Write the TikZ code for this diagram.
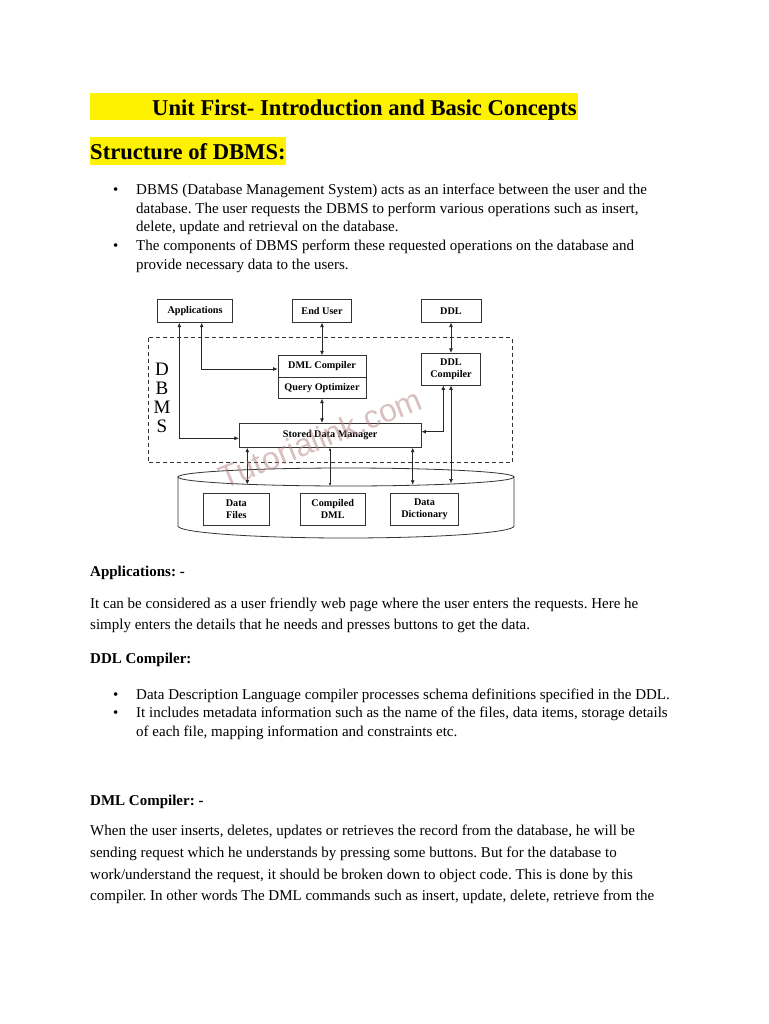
\documentclass[tikz,border=0pt]{standalone}
\usepackage{fontspec}
\setmainfont{Liberation Serif}
\newfontfamily\markfont{Liberation Sans}
\usetikzlibrary{arrows.meta, positioning}
\frenchspacing

\tikzset{
  body/.style={anchor=base west, inner sep=0pt, font=\fontsize{15}{18}\selectfont},
  head/.style={anchor=base west, inner sep=0pt, font=\fontsize{15}{18}\selectfont\bfseries},
  big/.style={anchor=base west, inner sep=0pt, font=\fontsize{22.6}{26}\selectfont\bfseries},
  blk/.style={draw=black!80, line width=0.8pt, fill=white, align=center, inner sep=0pt,
    font=\fontsize{10.2}{12}\selectfont\bfseries},
  link/.style={black!85, line width=0.8pt, {Latex[length=4.5pt,width=4pt]}-{Latex[length=4.5pt,width=4pt]}},
  thinlink/.style={black!85, line width=0.5pt, {Latex[length=3pt,width=2.5pt]}-{Latex[length=3pt,width=2.5pt]}},
  letter/.style={inner sep=0pt, font=\fontsize{19}{19}\selectfont},
}

\begin{document}
\begin{tikzpicture}[x=1pt,y=-1pt]
\fill[white] (0,0) rectangle (768,1024);
\useasboundingbox (0,0) rectangle (768,1024);

% headings
\fill[yellow] (90,93) rectangle (578,120);
\node[big] (title) at (152,115.5) {Unit First- Introduction and Basic Concepts};
\fill[yellow] (90,137) rectangle (286,165);
\node[big] (struct) at (90,160) {Structure of DBMS:};

% first bullets
\node[body] at (113,195) {\textbullet};
\node[body] at (136,195) {DBMS (Database Management System) acts as an interface between the user and the};
\node[body] at (136,213.5) {database. The user requests the DBMS to perform various operations such as insert,};
\node[body] at (136,232) {delete, update and retrieval on the database.};
\node[body] at (113,250.5) {\textbullet};
\node[body] at (136,250.5) {The components of DBMS perform these requested operations on the database and};
\node[body] at (136,269) {provide necessary data to the users.};

% diagram
\draw[black!80, line width=0.8pt, dash pattern=on 4pt off 3pt] (148.3,337.7) rectangle (512.3,462.7);
\node[letter] at (162,369) {D};
\node[letter] at (162,388) {B};
\node[letter] at (162,407) {M};
\node[letter] at (162,426) {S};

\node[blk, minimum width=75.4pt, minimum height=23pt] (apps) at (195,310.8) {Applications};
\node[blk, minimum width=59pt, minimum height=23pt] (user) at (322,310.7) {End User};
\node[blk, minimum width=60pt, minimum height=23pt] (ddl) at (451,310.7) {DDL};
\node[blk, minimum width=88pt, minimum height=21.6pt] (dml) at (322,366.5) {DML Compiler};
\node[blk, minimum width=88pt, minimum height=21pt] (qopt) at (322,387.8) {Query Optimizer};
\node[blk, minimum width=59.7pt, minimum height=31.7pt] (ddlc) at (451,369.2) {DDL\\Compiler};
\node[blk, minimum width=181.7pt, minimum height=24pt] (sdm) at (330.2,435.3) {Stored Data Manager};

% database
\draw[black!80, line width=0.8pt] (178,477) -- (178,526) arc[start angle=180, end angle=0, x radius=168, y radius=12] -- (514,477);
\draw[black!80, line width=0.8pt] (346,477) ellipse [x radius=168, y radius=9];
\node[blk, minimum width=66pt, minimum height=31.7pt] (files) at (236.3,509.2) {Data\\Files};
\node[blk, minimum width=65.3pt, minimum height=31.7pt] (cdml) at (332.7,509.2) {Compiled\\DML};
\node[blk, minimum width=67.6pt, minimum height=31.7pt] (dict) at (424.5,509.2) {Data\\Dictionary};
\coordinate (db1) at (247.3,484.5);
\coordinate (db2) at (330,486);
\coordinate (db3) at (412.7,484.8);
\coordinate (db4) at (451,483.5);

\draw[link] ([xshift=-15.7pt]apps.south) |- ([yshift=-3pt]sdm.west);
\draw[link] ([xshift=6.7pt]apps.south) |- ([yshift=-2.5pt]dml.west);
\draw[link] (user.south) -- (dml.north);
\draw[link] (qopt.south) -- (qopt.south |- sdm.north);
\draw[link] (ddl.south) -- (ddlc.north);
\draw[link] ([xshift=-7.7pt]ddlc.south) |- ([yshift=3.6pt]sdm.east);
\draw[link] (ddlc.south) -- (db4);
\draw[link] (db1 |- sdm.south) -- (db1);
\draw[thinlink] (db2 |- sdm.south) -- (db2);
\draw[link] (db3 |- sdm.south) -- (db3);

% watermark
\node[inner sep=0pt, rotate=22, text={rgb,255:red,180;green,130;blue,130}, text opacity=0.5,
  font=\markfont\fontsize{32}{32}\selectfont] (mark) at (320,438) {Tutorialink.com};

% text after diagram
\node[head] at (90,576) {Applications: -};
\node[body] at (90,608) {It can be considered as a user friendly web page where the user enters the requests. Here he};
\node[body] at (90,629.5) {simply enters the details that he needs and presses buttons to get the data.};
\node[head] at (90,663) {DDL Compiler:};
\node[body] at (113,699) {\textbullet};
\node[body] at (136,699) {Data Description Language compiler processes schema definitions specified in the DDL.};
\node[body] at (113,717.5) {\textbullet};
\node[body] at (136,717.5) {It includes metadata information such as the name of the files, data items, storage details};
\node[body] at (136,736) {of each file, mapping information and constraints etc.};
\node[head] at (90,805) {DML Compiler: -};
\node[body] at (90,835) {When the user inserts, deletes, updates or retrieves the record from the database, he will be};
\node[body] at (90,857) {sending request which he understands by pressing some buttons. But for the database to};
\node[body] at (90,879) {work/understand the request, it should be broken down to object code. This is done by this};
\node[body] at (90,900.5) {compiler. In other words The DML commands such as insert, update, delete, retrieve from the};
\end{tikzpicture}
\end{document}
